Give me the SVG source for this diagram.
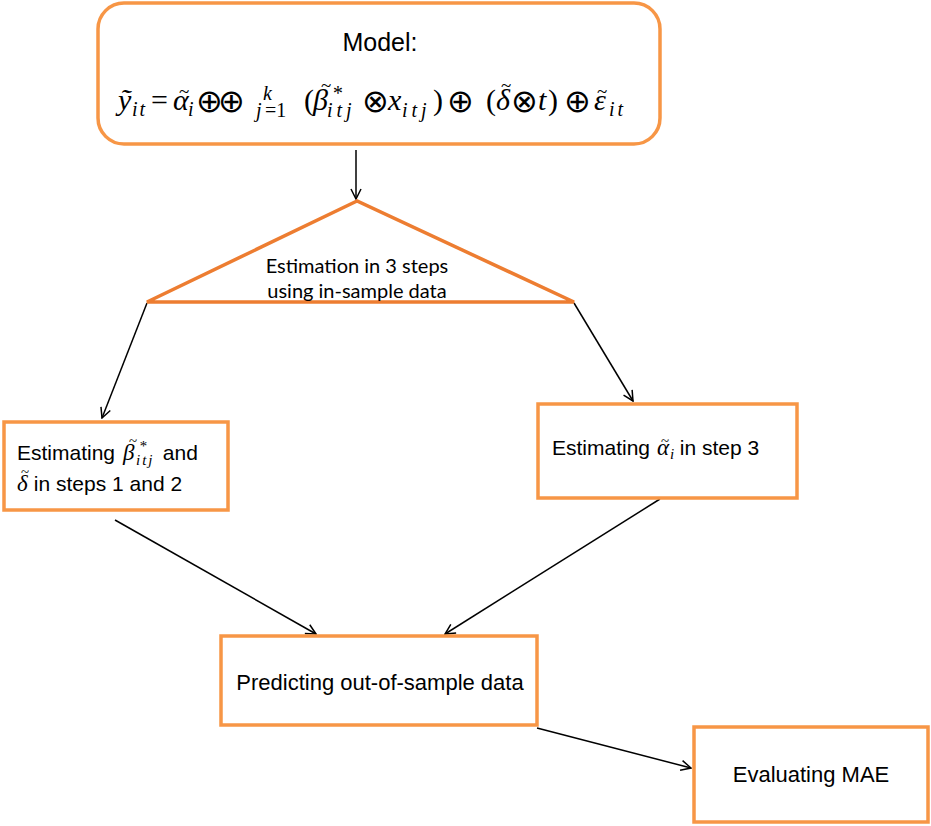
<svg xmlns="http://www.w3.org/2000/svg" width="931" height="826" viewBox="0 0 931 826">
<defs>
<style>
.box{fill:#fff;stroke:#F79646;stroke-width:3.5}
.tri{fill:#fff;stroke:#ED7D31;stroke-width:3.5;stroke-linejoin:miter}
.lbl{font-family:"Liberation Sans",Arial,sans-serif;fill:#000}
.cal{font-family:Lato,"Open Sans",sans-serif;font-size:20px;fill:#000}
.mi{font-family:"Liberation Serif","DejaVu Serif",serif;font-style:italic}
.up{font-style:normal}
.op{font-family:"DejaVu Sans",sans-serif;font-style:normal;font-weight:200}
.conn{stroke:#000;stroke-width:1.5;fill:none;marker-end:url(#arr)}
</style>
<marker id="arr" viewBox="0 0 12 12" refX="11" refY="6" markerWidth="12" markerHeight="12" markerUnits="userSpaceOnUse" orient="auto">
<path d="M1,1 L11,6 L1,11" fill="none" stroke="#000" stroke-width="1.5"/>
</marker>
</defs>
<rect width="931" height="826" fill="#fff"/>
<g id="connectors">
<line class="conn" x1="356" y1="150" x2="356" y2="199"/>
<line class="conn" x1="147" y1="303" x2="102" y2="418"/>
<line class="conn" x1="574" y1="303" x2="633" y2="401"/>
<line class="conn" x1="115" y1="520" x2="316" y2="634"/>
<line class="conn" x1="660" y1="499" x2="445" y2="634"/>
<line class="conn" x1="537" y1="728" x2="691" y2="768"/>
</g>
<g id="model">
<rect class="box" x="98" y="3" width="562" height="141" rx="26"/>
<text class="lbl" x="380" y="51" text-anchor="middle" style="font-size:25px">Model:</text>
<text class="mi" style="font-size:30px"><tspan x="118" y="110">ỹ</tspan><tspan style="font-size:20px;letter-spacing:2px" x="132" y="116">it</tspan><tspan class="up" x="151" y="110">=</tspan><tspan x="173" y="110">α</tspan><tspan class="up" style="font-size:19px" x="179" y="98">~</tspan><tspan style="font-size:20px" x="188" y="116">i</tspan><tspan class="op" style="font-size:32px" x="196" y="112">⊕</tspan><tspan class="op" style="font-size:32px" x="218" y="112">⊕</tspan><tspan style="font-size:20px" x="263" y="100">k</tspan><tspan style="font-size:20px" x="256" y="117">j</tspan><tspan class="up" style="font-size:20px" x="265" y="117">=1</tspan><tspan class="up" x="304" y="110">(</tspan><tspan x="313" y="110">β</tspan><tspan class="up" style="font-size:19px" x="321" y="92">~</tspan><tspan style="font-size:20px" x="332" y="100">*</tspan><tspan style="font-size:20px;letter-spacing:4px" x="327" y="117">itj</tspan><tspan class="op" style="font-size:32px" x="362" y="112">⊗</tspan><tspan x="388" y="110">x</tspan><tspan style="font-size:20px;letter-spacing:4px" x="402" y="117">itj</tspan><tspan class="up" x="433" y="110">)</tspan><tspan class="op" style="font-size:32px" x="447" y="112">⊕</tspan><tspan class="up" x="486" y="110">(</tspan><tspan x="496" y="110">δ</tspan><tspan class="up" style="font-size:19px" x="501" y="92">~</tspan><tspan class="op" style="font-size:32px" x="511" y="112">⊗</tspan><tspan x="538" y="110">t</tspan><tspan class="up" x="548" y="110">)</tspan><tspan class="op" style="font-size:32px" x="564" y="112">⊕</tspan><tspan x="594" y="110">ε</tspan><tspan class="up" style="font-size:19px" x="597" y="98">~</tspan><tspan style="font-size:20px;letter-spacing:3px" x="609" y="116">it</tspan></text>
</g>
<g id="estimation">
<polygon class="tri" points="357,201 147,302 574,302"/>
<text class="cal" x="357" y="273" text-anchor="middle">Estimation in 3 steps</text>
<text class="cal" x="357" y="298" text-anchor="middle">using in-sample data</text>
</g>
<g id="step12">
<rect class="box" x="4" y="422" width="224" height="88"/>
<text class="lbl" style="font-size:21px"><tspan x="17" y="460">Estimating</tspan><tspan class="mi" style="font-size:23px" x="123" y="460">β</tspan><tspan class="up mi" style="font-size:15px" x="129" y="446">~</tspan><tspan class="mi" style="font-size:15px" x="139" y="451">*</tspan><tspan class="mi" style="font-size:15px;letter-spacing:2px" x="136" y="465">itj</tspan><tspan x="157" y="460"> and</tspan></text>
<text class="lbl" style="font-size:21px"><tspan class="mi" style="font-size:23px" x="17" y="491">δ</tspan><tspan class="up mi" style="font-size:15px" x="21" y="477">~</tspan><tspan x="28" y="491"> in steps 1 and 2</tspan></text>
</g>
<g id="step3">
<rect class="box" x="538" y="404" width="259" height="94"/>
<text class="lbl" style="font-size:21px"><tspan x="552" y="455">Estimating</tspan><tspan class="mi" style="font-size:23px" x="657" y="455">α</tspan><tspan class="up mi" style="font-size:15px" x="661" y="446">~</tspan><tspan class="mi" style="font-size:15px" x="670" y="459">i</tspan><tspan x="674" y="455"> in step 3</tspan></text>
</g>
<g id="predict">
<rect class="box" x="221" y="636" width="316" height="89"/>
<text class="lbl" x="380" y="690" text-anchor="middle" style="font-size:22px">Predicting out-of-sample data</text>
</g>
<g id="mae">
<rect class="box" x="694" y="727" width="234" height="95"/>
<text class="lbl" x="811" y="782" text-anchor="middle" style="font-size:22px">Evaluating MAE</text>
</g>
</svg>
